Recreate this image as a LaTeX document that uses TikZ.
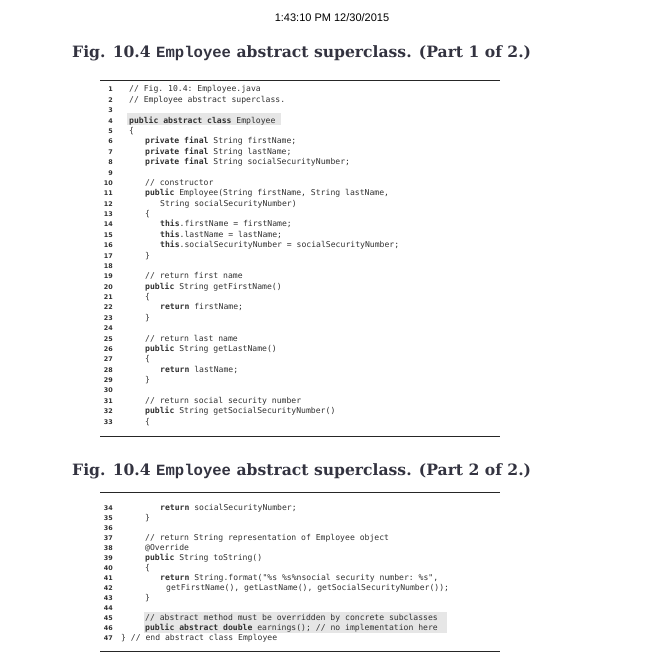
\documentclass[tikz,border=0pt]{standalone}
\usepackage{fontspec}
\setmainfont{DejaVu Serif}
\setmonofont{DejaVu Sans Mono}
\newfontfamily\tsfont{Liberation Sans}
\newfontfamily\ttl{DejaVu Serif}
\newfontfamily\ttlmono{Liberation Mono}
\newfontfamily\numfont{DejaVu Sans}
\definecolor{ttlc}{HTML}{333340}
\definecolor{hl}{HTML}{E6E6E6}
\definecolor{codec}{HTML}{303030}
\tikzset{
  code/.style={anchor=base west,inner sep=0pt,font=\ttfamily\fontsize{8.1}{9}\selectfont,text=codec},
  lnum/.style={anchor=base east,inner sep=0pt,font=\numfont\bfseries\fontsize{6.4}{7}\selectfont,text=codec},
  rule/.style={line width=0.9pt,draw=black!85},
  ttlnode/.style={anchor=base west,inner sep=0pt,font=\ttl\bfseries\fontsize{15.6}{17}\selectfont,text=ttlc}
}
\newcommand{\kw}[1]{\textbf{#1}}
\newcommand{\cl}[4]{\node[lnum] (n#2) at (113pt,-#1pt) {#2}; \node[code] (c#2) at (#3pt,-#1pt) {#4};}
\begin{document}
\begin{tikzpicture}[x=1pt,y=1pt]
\useasboundingbox (0,0) rectangle (664,-666);
\fill[hl] (127,-113.5) rectangle (281,-125);
\fill[hl] (144,-612) rectangle (447,-633);
\node[anchor=base,inner sep=0pt,font=\tsfont\fontsize{11}{12}\selectfont] (ts) at (332,-22) {1:43:10 PM 12/30/2015};
\node[ttlnode] (t1) at (72,-58) {Fig. 10.4 {\ttlmono\bfseries Employee} abstract superclass. (Part 1 of 2.)};
\node[ttlnode] (t2) at (72,-475) {Fig. 10.4 {\ttlmono\bfseries Employee} abstract superclass. (Part 2 of 2.)};
\coordinate (r1a) at (100,-80); \coordinate (r1b) at (500,-80);
\coordinate (r2a) at (100,-436); \coordinate (r2b) at (500,-436);
\coordinate (r3a) at (100,-492); \coordinate (r3b) at (500,-492);
\coordinate (r4a) at (100,-651); \coordinate (r4b) at (500,-651);
\draw[rule] (r1a) -- (r1b); \draw[rule] (r2a) -- (r2b);
\draw[rule] (r3a) -- (r3b); \draw[rule] (r4a) -- (r4b);
\cl{92}{1}{129}{// Fig. 10.4: Employee.java}
\cl{102.4}{2}{129}{// Employee abstract superclass.}
\cl{112.7}{3}{129}{}
\cl{123.1}{4}{129}{\kw{public abstract class} Employee}
\cl{133.5}{5}{129}{\{}
\cl{143.9}{6}{145}{\kw{private final} String firstName;}
\cl{154.2}{7}{145}{\kw{private final} String lastName;}
\cl{164.6}{8}{145}{\kw{private final} String socialSecurityNumber;}
\cl{175}{9}{145}{}
\cl{185.4}{10}{145}{// constructor}
\cl{195.7}{11}{145}{\kw{public} Employee(String firstName, String lastName,}
\cl{206.1}{12}{160}{String socialSecurityNumber)}
\cl{216.5}{13}{145}{\{}
\cl{226.9}{14}{160}{\kw{this}.firstName = firstName;}
\cl{237.2}{15}{160}{\kw{this}.lastName = lastName;}
\cl{247.6}{16}{160}{\kw{this}.socialSecurityNumber = socialSecurityNumber;}
\cl{258}{17}{145}{\}}
\cl{268.4}{18}{145}{}
\cl{278.7}{19}{145}{// return first name}
\cl{289.1}{20}{145}{\kw{public} String getFirstName()}
\cl{299.5}{21}{145}{\{}
\cl{309.9}{22}{160}{\kw{return} firstName;}
\cl{320.2}{23}{145}{\}}
\cl{330.6}{24}{145}{}
\cl{341}{25}{145}{// return last name}
\cl{351.4}{26}{145}{\kw{public} String getLastName()}
\cl{361.7}{27}{145}{\{}
\cl{372.1}{28}{160}{\kw{return} lastName;}
\cl{382.5}{29}{145}{\}}
\cl{392.9}{30}{145}{}
\cl{403.2}{31}{145}{// return social security number}
\cl{413.6}{32}{145}{\kw{public} String getSocialSecurityNumber()}
\cl{424}{33}{145}{\{}
\cl{510}{34}{160}{\kw{return} socialSecurityNumber;}
\cl{520}{35}{145}{\}}
\cl{530}{36}{145}{}
\cl{540}{37}{145}{// return String representation of Employee object}
\cl{550}{38}{145}{@Override}
\cl{560}{39}{145}{\kw{public} String toString()}
\cl{570}{40}{145}{\{}
\cl{580}{41}{160}{\kw{return} String.format("\%s \%s\%nsocial security number: \%s",}
\cl{590}{42}{166}{getFirstName(), getLastName(), getSocialSecurityNumber());}
\cl{600}{43}{145}{\}}
\cl{610}{44}{145}{}
\cl{620}{45}{145}{// abstract method must be overridden by concrete subclasses}
\cl{630}{46}{145}{\kw{public abstract double} earnings(); // no implementation here}
\cl{640}{47}{121}{\} // end abstract class Employee}
\end{tikzpicture}
\end{document}
